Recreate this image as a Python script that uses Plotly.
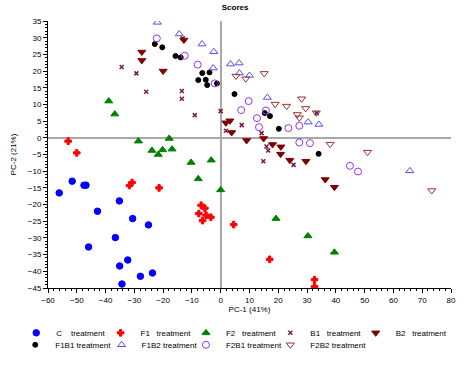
import plotly.graph_objects as go

# ---- data (PC-1, PC-2 scores) ----
c_x = [-56.1, -51.6, -47.5, -46.8, -35.2, -42.8, -30.6, -25.1, -36.6, -45.9, -32.3, -35.1, -27.9, -23.7, -34.3]
c_y = [-16.5, -13.0, -14.2, -14.2, -18.9, -22.0, -24.2, -26.1, -29.9, -32.7, -36.6, -38.4, -41.5, -40.5, -43.8]

f1_x = [-53.0, -50.0, -31.7, -30.8, -21.4, -6.8, -5.5, -7.6, -5.1, -3.4, -6.3, 4.5, 17.0, 32.6, 32.6]
f1_y = [-1.0, -4.5, -14.3, -13.4, -15.0, -20.2, -21.1, -22.7, -23.2, -23.8, -24.8, -26.0, -36.4, -42.5, -44.6]

f2_x = [-38.9, -36.8, -28.6, -17.9, -23.9, -21.7, -20.2, -16.9, -10.3, -3.3, -7.8, 0.0, 19.2, 30.3, 39.5]
f2_y = [11.0, 7.1, -1.0, -0.2, -3.8, -5.0, -3.6, -3.4, -7.4, -6.7, -12.3, -15.6, -24.2, -29.4, -34.3]

b1_x = [-34.4, -29.3, -25.9, -13.5, -13.5, -13.2, -9.0, 0.0, 1.8, 7.3, 14.2, 15.9, 16.5, 14.8, 25.3, 33.3]
b1_y = [21.2, 19.3, 13.8, 14.0, 11.7, 29.8, 6.8, 8.0, 2.1, 3.8, 1.4, -2.6, -3.8, -7.0, -8.1, 7.4]

b2_x = [-27.4, -27.4, -20.0, -12.8, 1.8, 3.2, 3.8, 9.0, 14.9, 18.0, 20.9, 20.8, 24.0, 29.6, 36.3, 39.5]
b2_y = [25.7, 23.2, 20.0, 29.3, 4.5, 5.1, 1.6, -0.8, -0.2, -2.0, -2.7, -4.9, -6.7, -7.0, -12.5, -14.8]

f1b1_x = [-22.9, -20.3, -15.7, -13.9, -7.8, -6.4, -5.2, -3.9, -4.7, -1.3, 4.8, 15.3, 17.1, 20.2, 34.0]
f1b1_y = [28.1, 27.1, 24.5, 24.1, 17.3, 19.4, 17.4, 19.6, 15.8, 16.3, 13.1, 7.4, 6.5, 2.7, -4.8]

f1b2_x = [-22.0, -14.4, -6.5, -2.4, -2.6, 3.4, 6.4, 6.5, 10.0, 16.2, 30.4, 34.1, 65.7]
f1b2_y = [34.6, 31.1, 28.1, 25.8, 20.9, 22.1, 22.4, 19.4, 18.7, 12.1, 4.7, 4.0, -9.9]

f2b1_x = [-22.2, -12.5, -8.0, -2.1, 7.1, 9.7, 15.7, 12.6, 13.3, 23.5, 27.3, 27.3, 31.0, 44.9, 47.7]
f2b1_y = [29.8, 24.6, 21.9, 16.3, 8.3, 11.0, 8.2, 5.9, 3.2, 2.9, 3.6, -1.4, -1.6, -8.4, -10.1]

f2b2_x = [5.3, 8.7, 15.1, 18.9, 22.9, 28.1, 29.5, 26.6, 27.3, 33.2, 38.0, 51.0, 73.3]
f2b2_y = [18.5, 17.7, 19.3, 10.1, 9.5, 11.7, 8.8, 7.0, 6.0, 7.5, -1.9, -4.3, -15.8]

NB = "\u00a0"
# name, x, y, symbol, colour, size, legend-row, legend-left(px)
series = [
    ("C" + NB * 4 + "treatment", c_x, c_y, "circle", "#0000ff", 6.5, 334, 13),
    ("F1" + NB * 3 + "treatment", f1_x, f1_y, "cross", "#ff0000", 5.5, 334, 98),
    ("F2" + NB * 3 + "treatment", f2_x, f2_y, "triangle-up", "#008000", 7, 334, 184),
    ("B1" + NB * 3 + "treatment", b1_x, b1_y, "x-thin", "#7a1a4a", 4, 334, 269),
    ("B2" + NB * 3 + "treatment", b2_x, b2_y, "triangle-down", "#800000", 7, 334, 355),
    ("F1B1 treatment", f1b1_x, f1b1_y, "circle", "#000000", 5, 346, 12),
    ("F1B2 treatment", f1b2_x, f1b2_y, "triangle-up-open", "#5a4ee8", 7, 346, 99),
    ("F2B1 treatment", f2b1_x, f2b1_y, "circle-open", "#9933ee", 7, 346, 184),
    ("F2B2 treatment", f2b2_x, f2b2_y, "triangle-down-open", "#993333", 7, 346, 269),
]

font = "Liberation Sans, Arial, sans-serif"
PW = 406.0  # plot-area width in px
PH = 268.0  # plot-area height in px

fig = go.Figure()
legends = {}
for i, (name, xs, ys, sym, col, size, row_y, left) in enumerate(series):
    key = "legend" if i == 0 else "legend%d" % (i + 1)
    line = dict(color=col, width=1.5 if sym == "x-thin" else 1)
    fig.add_trace(go.Scatter(
        x=xs, y=ys, mode="markers", name=name, legend=key,
        marker=dict(symbol=sym, color=col, size=size, line=line),
    ))
    legends[key] = dict(
        orientation="h", x=(left - 45) / PW, xanchor="left",
        y=(289 - row_y) / PH, yanchor="middle",
        font=dict(family=font, size=8), bgcolor="rgba(0,0,0,0)", itemwidth=30,
    )

axis_common = dict(
    showline=True, linecolor="#000000", linewidth=1,
    ticks="outside", ticklen=4, tickcolor="#000000",
    showgrid=False, zeroline=True, zerolinecolor="#a8a8a8", zerolinewidth=1.5,
    tickfont=dict(family=font, size=8, color="#000000"),
)

fig.update_layout(
    width=474, height=371,
    margin=dict(l=45, r=23, t=21, b=82),
    paper_bgcolor="white", plot_bgcolor="white",
    font=dict(family=font, size=8, color="#000000"),
    title=dict(text="<b>Scores</b>", x=0.496, xanchor="center", y=0.981, yanchor="middle",
               font=dict(family=font, size=8, color="#000000")),
    xaxis=dict(range=[-60, 80], dtick=10, title=dict(text="PC-1 (41%)", standoff=2,
               font=dict(family=font, size=8)),
               minor=dict(ticks="outside", ticklen=2, dtick=2, tickcolor="#000000"),
               **axis_common),
    yaxis=dict(range=[-45, 35], dtick=5, title=dict(text="PC-2 (21%)", standoff=10,
               font=dict(family=font, size=8)),
               minor=dict(ticks="outside", ticklen=2, dtick=1, tickcolor="#000000"),
               **axis_common),
    showlegend=True,
    **legends,
)

fig.write_html("out.html", config={"displayModeBar": False},
               post_script="document.body.style.margin='0px';")
